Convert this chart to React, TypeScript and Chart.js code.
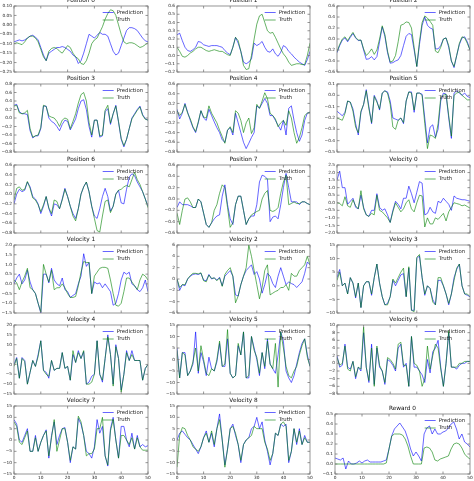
import React, { useEffect, useRef } from 'react';
import { Chart, registerables } from 'chart.js';

Chart.register(...registerables);

// time steps shared by every panel
const STEPS = [0, 1, 2, 3, 4, 5, 6, 7, 8, 9, 10, 11, 12, 13, 14, 15, 16, 17, 18, 19, 20, 21, 22, 23, 24, 25,
    26, 27, 28, 29, 30, 31, 32, 33, 34, 35, 36, 37, 38, 39, 40, 41, 42, 43, 44, 45, 46, 47, 48, 49, 50];

const TITLES = ['Position 0', 'Position 1', 'Position 2', 'Position 3', 'Position 4', 'Position 5',
    'Position 6', 'Position 7', 'Velocity 0', 'Velocity 1', 'Velocity 2', 'Velocity 3',
    'Velocity 4', 'Velocity 5', 'Velocity 6', 'Velocity 7', 'Velocity 8', 'Reward 0'];

const POS0_PRED = [-0.09, -0.085, -0.08, -0.085, -0.08, -0.07, -0.06, -0.055, -0.065, -0.08, -0.12, -0.16, -0.19, -0.15, -0.14, -0.13, -0.12, -0.12, -0.115, -0.12, -0.13, -0.14, -0.16, -0.17, -0.205, -0.19, -0.15, -0.10, -0.05, -0.06, -0.07, -0.055, -0.04, -0.05, -0.05, -0.06, -0.10, -0.14, -0.16, -0.15, -0.11, -0.07, -0.03, -0.015, -0.015, -0.02, -0.03, -0.05, -0.07, -0.085, -0.09];
const POS0_TRUE = [-0.10, -0.095, -0.10, -0.105, -0.09, -0.07, -0.06, -0.06, -0.07, -0.09, -0.13, -0.17, -0.19, -0.14, -0.125, -0.12, -0.125, -0.14, -0.15, -0.13, -0.11, -0.12, -0.15, -0.17, -0.18, -0.205, -0.21, -0.19, -0.15, -0.10, -0.08, -0.07, -0.04, -0.01, 0.03, 0.06, 0.08, 0.075, 0.05, 0.0, -0.05, -0.09, -0.10, -0.095, -0.095, -0.10, -0.11, -0.12, -0.115, -0.105, -0.095];

const POS1_PRED = [0.25, 0.27, 0.18, 0.10, 0.06, 0.05, 0.07, 0.10, 0.17, 0.16, 0.13, 0.12, 0.11, 0.12, 0.12, 0.12, 0.11, 0.10, 0.06, 0.03, 0.01, 0.10, 0.22, 0.15, 0.05, -0.08, -0.10, -0.08, -0.04, 0.15, 0.12, 0.14, 0.17, 0.10, 0.05, 0.04, 0.08, 0.02, -0.01, 0.04, 0.12, 0.10, 0.05, 0.02, -0.02, -0.05, -0.08, -0.10, -0.12, -0.05, 0.05];
const POS1_TRUE = [0.10, 0.05, -0.01, -0.02, 0.00, 0.03, 0.05, 0.08, 0.10, 0.10, 0.08, 0.06, 0.05, 0.06, 0.07, 0.06, 0.05, 0.05, 0.03, 0.01, 0.00, 0.10, 0.22, 0.18, 0.05, -0.12, -0.17, -0.16, 0.00, 0.20, 0.38, 0.48, 0.50, 0.40, 0.30, 0.27, 0.28, 0.22, 0.15, 0.08, 0.02, -0.02, -0.08, -0.12, -0.11, -0.10, -0.10, -0.11, -0.11, 0.00, 0.15];

const POS2_PRED = [-0.25, -0.12, -0.02, 0.02, -0.05, 0.03, 0.10, 0.02, -0.03, -0.02, -0.20, -0.37, -0.36, -0.32, -0.38, -0.32, -0.05, 0.22, 0.05, -0.25, -0.44, -0.43, -0.40, -0.38, -0.30, -0.12, 0.05, 0.10, 0.08, -0.20, -0.50, -0.10, 0.25, 0.40, 0.25, 0.20, 0.18, -0.18, -0.18, -0.12, 0.00, 0.02, -0.15, -0.40, -0.52, -0.30, -0.10, 0.02, 0.04, -0.05, -0.20];
const POS2_TRUE = [-0.23, -0.10, 0.00, 0.04, -0.03, 0.05, 0.12, 0.03, -0.02, -0.02, -0.18, -0.30, -0.25, -0.18, -0.28, -0.20, 0.00, 0.24, 0.08, -0.22, -0.42, -0.40, -0.30, -0.05, 0.25, 0.27, 0.31, 0.30, 0.20, -0.15, -0.50, -0.05, 0.30, 0.42, 0.38, 0.32, 0.25, -0.22, -0.25, -0.15, 0.00, 0.02, -0.12, -0.40, -0.50, -0.30, -0.08, 0.04, 0.02, -0.08, -0.20];

const POS3_PRED = [0.30, 0.32, 0.15, 0.10, 0.10, 0.08, -0.30, -0.47, -0.42, -0.42, -0.25, 0.28, 0.28, 0.00, -0.08, -0.12, -0.20, -0.30, -0.15, -0.05, -0.08, -0.28, -0.15, -0.02, 0.22, 0.40, 0.43, 0.20, -0.20, -0.45, -0.05, -0.05, -0.45, -0.42, 0.15, 0.22, -0.15, 0.10, 0.30, -0.10, -0.50, -0.68, -0.50, -0.25, 0.00, 0.10, 0.20, 0.28, 0.08, -0.02, -0.05];
const POS3_TRUE = [0.28, 0.30, 0.12, 0.10, 0.12, 0.18, -0.25, -0.45, -0.42, -0.40, -0.22, 0.30, 0.27, 0.05, 0.02, 0.00, -0.08, -0.20, -0.05, 0.00, -0.03, -0.25, -0.08, 0.10, 0.35, 0.55, 0.60, 0.40, -0.10, -0.40, -0.05, -0.05, -0.42, -0.40, 0.18, 0.30, -0.12, 0.10, 0.28, -0.08, -0.48, -0.65, -0.50, -0.25, -0.02, 0.08, 0.18, 0.26, 0.06, -0.03, -0.05];

const POS4_PRED = [0.08, -0.12, 0.00, 0.20, 0.02, -0.15, -0.30, -0.40, -0.20, 0.05, -0.10, -0.15, 0.08, -0.05, -0.18, -0.30, -0.40, -0.55, -0.60, -0.35, -0.30, -0.45, 0.00, -0.20, -0.40, -0.60, -0.73, -0.62, -0.50, -0.40, 0.15, 0.10, 0.20, 0.30, 0.20, -0.05, -0.05, -0.15, -0.25, -0.35, -0.15, -0.45, 0.10, 0.15, -0.15, -0.40, -0.58, -0.45, -0.15, 0.00, 0.02];
const POS4_TRUE = [0.05, -0.05, 0.02, 0.18, 0.00, -0.12, -0.28, -0.38, -0.18, 0.05, -0.08, -0.10, 0.15, 0.00, -0.10, -0.20, -0.35, -0.48, -0.62, -0.35, -0.28, -0.40, 0.05, 0.00, -0.15, -0.40, -0.20, -0.10, -0.42, -0.30, 0.18, 0.10, 0.25, 0.42, 0.30, 0.00, -0.05, -0.12, -0.28, -0.20, -0.15, -0.25, 0.05, -0.10, -0.40, -0.62, -0.50, -0.30, -0.05, 0.00, 0.02];

const POS5_PRED = [-0.14, -0.16, -0.18, -0.15, -0.05, -0.06, -0.12, -0.25, -0.35, -0.15, -0.08, 0.05, -0.10, -0.25, 0.00, -0.05, -0.13, 0.02, 0.04, 0.03, -0.05, -0.20, -0.21, -0.22, -0.20, -0.25, -0.05, 0.03, 0.03, -0.15, 0.02, 0.02, 0.01, -0.20, -0.42, -0.28, -0.26, -0.37, -0.30, -0.05, 0.02, 0.01, -0.20, -0.38, 0.02, 0.04, 0.02, 0.00, 0.02, -0.01, -0.02];
const POS5_TRUE = [-0.20, -0.21, -0.22, -0.16, -0.05, -0.06, -0.14, -0.28, -0.33, -0.14, -0.08, 0.04, -0.12, -0.24, -0.01, -0.06, -0.12, 0.02, 0.04, 0.02, -0.08, -0.28, -0.30, -0.22, -0.20, -0.24, -0.05, 0.03, 0.02, -0.13, 0.02, 0.02, 0.00, -0.25, -0.47, -0.35, -0.36, -0.38, -0.25, -0.02, 0.00, 0.01, -0.18, -0.36, 0.00, 0.02, 0.03, 0.00, -0.02, -0.04, -0.04];

const POS6_PRED = [-0.20, 0.00, 0.10, 0.05, 0.08, 0.25, 0.15, -0.05, -0.10, -0.20, -0.40, -0.25, -0.05, -0.30, -0.45, -0.20, -0.22, -0.30, -0.10, 0.12, -0.05, -0.25, -0.40, -0.50, -0.30, 0.00, 0.15, 0.25, 0.05, -0.25, -0.45, -0.50, -0.30, -0.05, 0.12, -0.05, -0.35, -0.25, 0.00, 0.08, -0.18, -0.20, 0.10, 0.35, 0.42, 0.38, 0.25, 0.15, 0.05, -0.10, -0.25];
const POS6_TRUE = [-0.12, 0.12, 0.15, 0.08, 0.10, 0.26, 0.12, -0.08, -0.12, -0.22, -0.36, -0.22, -0.05, -0.28, -0.40, -0.12, -0.15, -0.30, -0.12, 0.10, -0.05, -0.25, -0.45, -0.55, -0.30, 0.00, 0.15, 0.25, 0.05, -0.25, -0.50, -0.75, -0.78, -0.45, -0.15, -0.12, -0.38, -0.25, 0.00, 0.08, 0.10, 0.15, 0.18, 0.15, 0.30, 0.45, 0.30, 0.20, 0.05, -0.10, -0.28];

const POS7_PRED = [-0.15, -0.05, -0.10, -0.10, -0.10, -0.12, -0.15, -0.15, 0.00, -0.05, -0.25, -0.45, -0.50, -0.42, -0.35, -0.30, -0.28, 0.05, 0.25, -0.10, -0.35, -0.45, -0.10, 0.05, 0.05, -0.20, -0.45, -0.35, -0.30, -0.30, -0.10, 0.30, 0.42, 0.40, 0.35, -0.40, -0.32, -0.30, -0.35, -0.10, 0.20, 0.45, 0.20, -0.05, -0.05, -0.05, -0.10, -0.05, -0.05, -0.08, -0.10];
const POS7_TRUE = [-0.25, -0.45, -0.20, 0.00, 0.02, -0.05, -0.15, -0.15, 0.00, -0.05, -0.25, -0.45, -0.50, -0.42, -0.20, -0.10, 0.10, 0.25, 0.20, -0.15, -0.50, -0.42, -0.10, 0.05, 0.05, -0.20, -0.45, -0.35, -0.28, -0.25, -0.22, -0.20, 0.00, 0.10, 0.15, -0.20, -0.22, -0.20, -0.15, 0.10, 0.30, 0.42, -0.10, -0.08, -0.05, -0.08, -0.08, -0.05, -0.05, -0.08, -0.10];

const VEL0_PRED = [1.5, 2.1, 1.0, 1.0, -0.1, 0.1, 0.3, -0.3, -0.4, 0.5, -0.3, -0.8, -0.9, -0.5, -0.5, 0.6, -0.3, -0.5, -0.4, -0.8, -1.3, -0.5, 0.1, -0.1, -0.4, 0.3, 0.3, 1.1, 0.6, 0.0, 0.7, 1.4, 1.3, -0.8, -0.7, -0.3, -0.6, -0.7, 0.1, 0.0, 0.3, 0.1, -0.1, -0.5, 0.45, 0.3, 0.25, 0.2, 0.2, 0.15, 0.1];
const VEL0_TRUE = [0.0, -0.05, -0.2, 0.4, -0.2, -0.3, 0.2, -0.2, -0.4, 0.8, -0.4, -0.8, -0.9, -0.7, -0.8, 0.5, -0.5, -0.6, -0.8, -1.0, -1.3, -0.6, 0.0, -0.3, -0.6, -0.4, 0.0, 0.2, -0.4, -0.6, 0.0, 0.5, 0.45, -1.6, -1.0, -1.4, -1.4, -1.0, -1.1, -0.9, -0.7, -1.2, -0.6, -0.3, 0.0, -0.05, -0.1, -0.2, -0.15, -0.25, -0.35];

const VEL1_PRED = [0.0, 0.3, 0.5, 0.0, 0.2, 0.7, 0.1, -0.3, -0.5, -1.0, -1.5, 0.5, 0.5, 0.05, 0.8, 0.2, 0.0, -0.1, 0.3, -0.3, -0.4, -0.7, -0.6, -0.5, 0.0, 0.4, 1.55, 0.9, 1.1, -0.5, 0.1, 0.0, 0.05, -0.2, 0.0, -0.2, -0.4, -1.1, -1.0, -0.5, 0.2, 0.6, 0.5, 0.6, 0.0, -0.1, -0.3, -0.4, -0.2, 0.2, -0.4];
const VEL1_TRUE = [0.2, 0.05, -0.3, 0.1, 0.4, 0.8, -0.2, -0.3, -0.5, -1.0, -1.45, 1.0, 0.5, 0.1, 0.7, -0.3, -0.2, -0.2, 0.0, -0.2, -0.5, -0.7, -0.7, -0.65, -0.1, 0.6, 1.15, 1.1, 1.1, -0.5, 0.4, 0.6, 0.8, 0.85, 0.85, 0.8, 0.2, -0.5, -1.1, -1.15, -1.0, -0.4, 0.3, 0.3, 0.1, -0.1, -0.3, 0.2, 0.5, 0.4, 0.2];

const VEL2_PRED = [0.0, -2.0, -1.0, -1.2, 0.0, 0.5, 0.8, 0.9, 0.8, 1.0, -0.2, -0.3, 0.8, 0.0, 0.2, -0.2, 0.3, -1.2, 0.5, 1.0, 1.5, 0.5, -2.8, -3.0, -1.0, 0.5, 1.5, 2.0, 2.5, 0.8, 1.3, 0.0, -2.5, -1.0, 1.0, 0.5, -0.8, -1.5, 0.5, 2.0, 0.5, -1.0, -0.5, -0.8, -1.0, -1.5, -1.0, -0.5, 1.0, 3.0, 2.5];
const VEL2_TRUE = [0.0, -1.5, -1.0, -1.0, 0.0, 0.6, 1.0, 1.0, 0.9, 1.1, -0.3, -0.5, 0.7, 0.1, 0.2, -0.3, 0.2, -1.3, 0.8, 1.5, 2.0, 0.5, -4.2, -3.0, -1.0, 0.5, 2.0, 6.0, 4.0, 1.5, -1.0, -3.5, -1.5, 1.5, 2.5, -2.8, -2.5, -2.2, -2.0, -1.5, -1.5, -1.0, -2.0, 1.0, 0.5, 0.5, 1.5, 2.0, 2.5, 4.0, 2.5];

const VEL3_PRED = [3, 6, 0, 1, -3, 3, 1, -4.5, 1, -8, 0, 1.5, 1.5, -3.5, 3, 8, 1, -4, -7, -6.5, -4, 2, 0, 2, 4, 4.5, -4, 6.5, -9, -9, 10, 11, 3, -3.5, 0, -1, -5, -7, 2, 2, 0, -3, -7, -3, 3, 6, 8, 0, -3, -3.5, -4];
const VEL3_TRUE = [2, 5, 0, 1, -3, 3, 1, -4, 1, -8, 0, 1.5, 1.5, -3, 3, 8, 1, -4, -7, -7, -4, 2.5, 1, 3, 5, 6.5, -4, 7, -9, -9.5, 10.5, 11.5, 3, -3, 0, -1, -6, -7, 3, 3, 0, -3, -6.5, -3, 2, 6.5, 8, 0, -3, -3, -4];

const VEL4_PRED = [0, 3.5, -7, 3.5, 2, -10, -4, 2, -1, 5, 12, -3, -4, -7, 2, -3, -2, -2, 6, -2, -1, -8, 5, 1, 7, 3, 6.5, -10, -9, -6, -5, 12, -5, -9, 3, 15, 5, -10, 10, 3, -13, -5, 7, 2, 7, 2, 2, 2, -8, -2, 0];
const VEL4_TRUE = [-1, 3, -7, 3, 1.5, -10, -4, 2, -1, 4, 12, -3, -5, -6, 2, -3, -2, -2, 6, -2, -1, -8, 7, 1, 6, 3, 7, -10, -10, -9, -5, 12, -5, -8, 3, 14, 5, -11, 9, 3, -14, -5, 6, 2, 5, 2, 2, 2, -8, -2, 0];

const VEL5_PRED = [5, -8, 3, 3, -7, -5, -2, 12, -6, 3, -1, -7, 1, -4, -5, -1, 7, -3, -3, 9, -6, -8, -7, 6, 2, 12, -8, -8, 10, 5, 0, -7, 3, -4, 9, -2, -4, -6, 2, 12, 8, -5, -8, -10, -7, -2, 3, 7, 9, 2, -3];
const VEL5_TRUE = [4, -8, 3, 2, -7, -5, -1, 5, -5, 6, 0, -6, -7, -4, -5, 0, 8, -3, -2, 13, -6, -8, -7, 7, 2, 12, -8, -7, 10, 4, 1, -6, 3, -3, 8, -2, -4, 7, -12, 12, 5, -3, -7, -8, -5, -3, 2, 6, 9, 1, -3];

const VEL6_PRED = [2, -1, -0.5, 5, -1, -1.5, 0.5, -4, -1, -2, 8, -1, -5, 5, -5.5, 4, -1, -2, -5.5, 1, 0.5, -0.5, -2, 4, 5, -1, 0, -6, 7, -1, -1, -2, -3, -5, 1, -2.5, 3, 4, 6, -1, -6, 0, 8, -1, -1, -1.5, -0.5, 0, 0, 0.5, 0.5];
const VEL6_TRUE = [1.5, -0.5, 0, 4.5, -1.5, -2, 0.5, -3.5, -1, -1.5, 9.5, -1, -4.5, 4, -6, 4.5, -0.5, -2, -5, 1.5, 1, 0, -1.5, 5, 5.5, -0.5, -0.5, -6, 7, 0, -0.5, -2, -6, -4, 4.5, -1.5, 2, 5, 4, -1.5, -6, 0, 8.5, -1, -1, -1, 0, 0, 0.5, 0.5, 0.5];

const VEL7_PRED = [9, 7, 0, -1, 2, 5, -5, -5, 2, -5, -1, 2, 4.5, -8, 2, 8, -2, 2, 5, 5.5, -1, -10, -3, -4, 9.5, 7, 2, -5, -6, -8, -3, 9, 3, 6, -7, -11.5, 5, 10, 0, -8, 6, 6, 0, -3, 3, -4, 2, -3, -2, -3, -2.5];
const VEL7_TRUE = [8, 6, -1, -2, 1, 4, -5, -5, 1, -5, -1, 2, 4, -7, 1, 9, -5, 0, 5, 5, -1, -9, -3, -4, 10.5, 8, 2, -7, -6, -6, -4, 5, 5, 10, -7, -11, 4, 9, 0, -8, 2, 2, 0, -2, 1, -4, 1, -3, -4.5, -4.5, -4.5];

const VEL8_PRED = [0, 3, 4, 2.5, 1, 0, -2, -4, -6, -3, 1, 4, -1, 3, -3, 5, 11.5, 0, -11, -4, 5, 7, 2, -2, -10, -2, 0, 1, 5, 6, 10, 5, 8, 0, -5, -11, -6, 3, 2, 7, 6, 7, -10, -5, 5, -2, 5, -2, 2, -1, -1];
const VEL8_TRUE = [-12, 2, 5.5, 5, 2, 0, -3, -4, -5, -3, 1, 3, -1, 4, -2, 5, 9, 0, -12, -4, 5, 6, 3, -2, -9, -2, 0, 1, 2, 6, 5, 5, 5, -1, -4, -9, -6, 3, 2, 7, 8, 6, -9, -5, 5, -1, 4, -2, 1, -1, -1];

const REW0_PRED = [0.06, 0.05, 0.04, 0.06, -0.05, 0.03, 0.00, 0.00, 0.01, 0.03, 0.01, 0.03, 0.04, 0.02, 0.02, 0.02, 0.02, 0.02, 0.03, 0.04, 0.15, 0.28, 0.35, 0.38, 0.41, 0.37, 0.33, 0.25, 0.15, 0.08, 0.12, 0.08, 0.03, 0.30, 0.36, 0.38, 0.30, 0.35, 0.30, 0.30, 0.32, 0.33, 0.36, 0.40, 0.42, 0.35, 0.25, 0.30, 0.22, 0.20, 0.17];
const REW0_TRUE = [0.00, 0.00, 0.00, 0.00, 0.00, 0.00, 0.00, 0.00, 0.00, 0.00, 0.00, 0.00, 0.00, 0.00, 0.00, 0.00, 0.00, 0.00, 0.00, 0.01, 0.15, 0.28, 0.30, 0.30, 0.30, 0.29, 0.25, 0.18, 0.08, 0.00, 0.00, 0.00, 0.00, 0.16, 0.17, 0.16, 0.12, 0.04, 0.03, 0.05, 0.06, 0.07, 0.08, 0.15, 0.20, 0.21, 0.20, 0.16, 0.10, 0.07, 0.05];

const PREDICTION = [POS0_PRED, POS1_PRED, POS2_PRED, POS3_PRED, POS4_PRED, POS5_PRED, POS6_PRED, POS7_PRED,
    VEL0_PRED, VEL1_PRED, VEL2_PRED, VEL3_PRED, VEL4_PRED, VEL5_PRED, VEL6_PRED, VEL7_PRED, VEL8_PRED, REW0_PRED];
const TRUTH = [POS0_TRUE, POS1_TRUE, POS2_TRUE, POS3_TRUE, POS4_TRUE, POS5_TRUE, POS6_TRUE, POS7_TRUE,
    VEL0_TRUE, VEL1_TRUE, VEL2_TRUE, VEL3_TRUE, VEL4_TRUE, VEL5_TRUE, VEL6_TRUE, VEL7_TRUE, VEL8_TRUE, REW0_TRUE];

// y axis per panel
const Y_MIN = [-0.25, -0.2, -0.6, -0.8, -0.8, -0.5, -0.8, -0.6, -2.0, -1.5, -6, -10, -15, -15, -8, -15, -15, -0.1];
const Y_MAX = [0.10, 0.6, 0.6, 0.8, 0.6, 0.1, 0.6, 0.6, 2.5, 2.0, 6, 15, 20, 15, 10, 15, 15, 0.5];
const Y_STEP = [0.05, 0.1, 0.2, 0.2, 0.2, 0.1, 0.2, 0.2, 0.5, 0.5, 2, 5, 5, 5, 2, 5, 5, 0.1];
const Y_DECIMALS = [2, 1, 1, 1, 1, 1, 1, 1, 1, 1, 0, 0, 0, 0, 0, 0, 0, 1];

// layout of the grid (plot area in page pixels)
const COL_LEFT = [14, 177, 337];
const COL_WIDTH = [134, 133, 133];
const ROW_TOP = [6, 84, 165, 245, 325, 406];
const ROW_HEIGHT = [66, 68, 68, 68, 69, 68];

const PAD_L = 26;
const PAD_R = 8;
const TITLE_H = 9;
const PAD_B = 9;
const FONT = 'DejaVu Sans';
const BLUE = 'rgba(0, 0, 255, 0.6)';
const GREEN = 'rgba(0, 128, 0, 0.6)';
const FRAME = '#7a7a7a';

const fmt = (v: number, dec: number) => {
    const s = Math.abs(v) < 1e-9 ? (0).toFixed(dec) : v.toFixed(dec);
    return s.replace('-', '\u2212');
};

const framePlugin = {
    id: 'frame',
    afterDatasetsDraw(chart: any) {
        const { ctx, chartArea: a, scales } = chart;
        ctx.save();
        ctx.strokeStyle = FRAME;
        ctx.lineWidth = 0.8;
        ctx.beginPath();
        scales.y.ticks.forEach((t: any) => {
            const py = scales.y.getPixelForValue(t.value);
            ctx.moveTo(a.left, py); ctx.lineTo(a.left + 2.5, py);
            ctx.moveTo(a.right, py); ctx.lineTo(a.right - 2.5, py);
        });
        scales.x.ticks.forEach((t: any) => {
            const px = scales.x.getPixelForValue(t.value);
            ctx.moveTo(px, a.bottom); ctx.lineTo(px, a.bottom - 2.5);
            ctx.moveTo(px, a.top); ctx.lineTo(px, a.top + 2.5);
        });
        ctx.stroke();
        ctx.strokeRect(a.left, a.top, a.right - a.left, a.bottom - a.top);
        ctx.restore();
    }
};

const legendPlugin = {
    id: 'innerLegend',
    afterDatasetsDraw(chart: any) {
        const { ctx, chartArea: a } = chart;
        const sets = chart.data.datasets;
        ctx.save();
        ctx.font = `5.3px "${FONT}"`;
        const tw = Math.max(...sets.map((d: any) => ctx.measureText(d.label).width));
        const x0 = a.right - 5 - tw - 14;
        sets.forEach((d: any, i: number) => {
            const y = a.top + 6.5 + i * 7.5;
            ctx.strokeStyle = d.borderColor;
            ctx.lineWidth = 1;
            ctx.beginPath();
            ctx.moveTo(x0, y);
            ctx.lineTo(x0 + 11, y);
            ctx.stroke();
            ctx.fillStyle = '#222';
            ctx.textBaseline = 'middle';
            ctx.fillText(d.label, x0 + 14, y);
        });
        ctx.restore();
    }
};

const Panel: React.FC<{ idx: number }> = ({ idx }) => {
    const canvasRef = useRef<HTMLCanvasElement>(null);
    const row = Math.floor(idx / 3);
    const col = idx % 3;
    const isReward = idx === 17;
    const left = isReward ? 335 : COL_LEFT[col];
    const w = isReward ? 135 : COL_WIDTH[col];
    const top = isReward ? 414 : ROW_TOP[row];
    const h = isReward ? 60 : ROW_HEIGHT[row];
    const showX = row === 5;
    const cw = PAD_L + w + PAD_R;
    const ch = TITLE_H + h + PAD_B;

    useEffect(() => {
        if (!canvasRef.current) return;
        const tickFont = { family: FONT, size: 4.3 };
        const chart = new Chart(canvasRef.current, {
            type: 'line',
            data: {
                labels: STEPS,
                datasets: [
                    { label: 'Prediction', data: PREDICTION[idx], borderColor: BLUE, borderWidth: 1, pointRadius: 0, order: 1 },
                    { label: 'Truth', data: TRUTH[idx], borderColor: GREEN, borderWidth: 1, pointRadius: 0, order: 0 }
                ]
            },
            options: {
                animation: false,
                responsive: false,
                events: [],
                layout: { padding: { left: 0, right: PAD_R, top: 0, bottom: 0 } },
                elements: { line: { tension: 0 } },
                plugins: {
                    legend: { display: false },
                    tooltip: { enabled: false },
                    title: {
                        display: true,
                        text: TITLES[idx],
                        fullSize: false,
                        color: '#111',
                        font: { family: FONT, size: 5.8, weight: 'normal', lineHeight: 1.2 },
                        padding: { top: 0, bottom: TITLE_H - 5.8 * 1.2 }
                    }
                },
                scales: {
                    x: {
                        type: 'linear',
                        min: 0,
                        max: 50,
                        grid: { display: false, drawTicks: false },
                        border: { display: false },
                        ticks: { display: showX, stepSize: 10, font: tickFont, color: '#222', padding: 1, maxRotation: 0, autoSkip: false },
                        afterFit: (s: any) => { s.height = PAD_B; }
                    },
                    y: {
                        type: 'linear',
                        min: Y_MIN[idx],
                        max: Y_MAX[idx],
                        grid: { display: false, drawTicks: false },
                        border: { display: false },
                        ticks: {
                            stepSize: Y_STEP[idx],
                            font: tickFont,
                            color: '#222',
                            padding: 2,
                            autoSkip: false,
                            callback: (v: any) => fmt(Number(v), Y_DECIMALS[idx])
                        },
                        afterFit: (s: any) => { s.width = PAD_L; }
                    }
                }
            } as any,
            plugins: [framePlugin, legendPlugin]
        });
        return () => chart.destroy();
    }, [idx]);

    return (
        <canvas
            ref={canvasRef}
            width={cw}
            height={ch}
            style={{ position: 'absolute', left: left - PAD_L, top: top - TITLE_H, width: cw, height: ch }}
        />
    );
};

export default function App() {
    return (
        <div style={{ position: 'absolute', left: 0, top: 0, width: 474, height: 481, background: '#fff', overflow: 'hidden' }}>
            {TITLES.map((_, i) => <Panel key={i} idx={i} />)}
        </div>
    );
}
